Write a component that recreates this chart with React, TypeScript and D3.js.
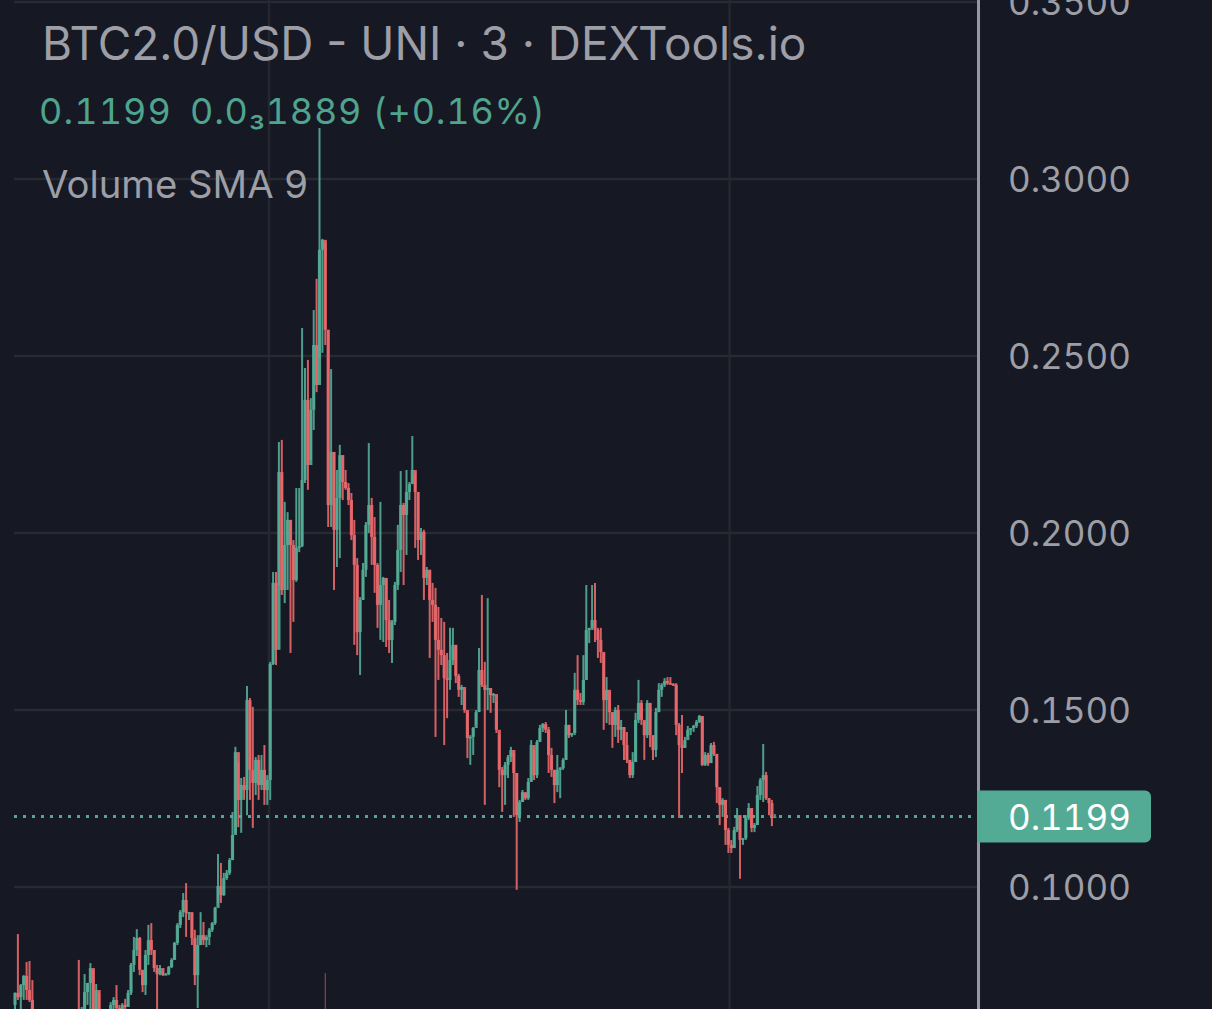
import * as d3 from "d3";

// prices, one entry per 3 minute candle
const highs = [
  .0702, .0867, .0726, .0751, .0788, .0791, .0737, .0618, .0625, .0614,
  .0605, .0618, .0624, .0612, .0603, .0616, .0622, .0630, .0615, .0608,
  .0620, .0625, .0794, .0661, .0754, .0729, .0785, .0766, .0726, .0701,
  .0647, .0630, .0647, .0675, .0689, .0723, .0667, .0672, .0684, .0709,
  .0785, .0859, .0881, .0859, .0766, .0822, .0893, .0898, .0822, .0780,
  .0780, .0760, .0757, .0777, .0799, .0845, .0898, .0935, .0983, .1011,
  .0929, .0927, .0879, .0864, .0929, .0901, .0864, .0884, .0901, .0944,
  .1093, .1068, .1040, .1048, .1082, .1212, .1396, .1350, .1308, .1311,
  .1568, .1534, .1509, .1367, .1373, .1373, .1401, .1316, .1636, .1890,
  .1890, .2257, .2263, .2088, .2059, .2037, .1980, .2127, .2127, .2579,
  .2466, .2489, .2381, .2630, .2718, .3144, .2831, .2819, .2574, .2463,
  .2229, .2178, .2249, .2220, .2178, .2141, .2113, .2037, .1929, .1819,
  .1915, .2031, .2254, .2099, .2045, .1915, .2088, .1876, .1873, .1811,
  .1754, .1862, .2023, .2175, .2085, .2178, .2144, .2274, .2170, .2116,
  .2014, .2009, .1904, .1896, .1859, .1845, .1791, .1760, .1749, .1661,
  .1732, .1732, .1684, .1602, .1571, .1557, .1492, .1429, .1452, .1500,
  .1675, .1825, .1636, .1816, .1562, .1548, .1523, .1429, .1339, .1353,
  .1373, .1396, .1379, .1322, .1246, .1274, .1266, .1308, .1415, .1387,
  .1415, .1458, .1463, .1466, .1452, .1393, .1331, .1373, .1339, .1364,
  .1500, .1458, .1435, .1605, .1655, .1548, .1655, .1853, .1732, .1853,
  .1859, .1732, .1732, .1661, .1593, .1551, .1494, .1508, .1514, .1472,
  .1452, .1438, .1359, .1381, .1492, .1585, .1528, .1466, .1528, .1520,
  .1429, .1506, .1576, .1576, .1590, .1593, .1593, .1576, .1576, .1463,
  .1486, .1424, .1455, .1449, .1458, .1472, .1486, .1483, .1381, .1379,
  .1407, .1410, .1376, .1282, .1251, .1246, .1167, .1133, .1170, .1223,
  .1203, .1138, .1203, .1237, .1223, .1181, .1285, .1308, .1404, .1325,
  .1251, .1246, .1206,
];

const lows = [
  .0647, .0681, .0647, .0681, .0681, .0675, .0590, .0585, .0596, .0585,
  .0575, .0585, .0595, .0582, .0572, .0585, .0595, .0600, .0585, .0578,
  .0588, .0592, .0560, .0560, .0624, .0667, .0638, .0624, .0596, .0624,
  .0568, .0554, .0568, .0610, .0638, .0647, .0596, .0624, .0647, .0664,
  .0695, .0760, .0805, .0751, .0703, .0695, .0780, .0808, .0760, .0647,
  .0751, .0749, .0751, .0751, .0771, .0794, .0836, .0884, .0915, .0859,
  .0907, .0836, .0723, .0658, .0836, .0836, .0830, .0836, .0873, .0893,
  .0955, .0955, .0975, .1020, .1034, .1076, .1153, .1169, .1153, .1246,
  .1203, .1246, .1167, .1260, .1246, .1274, .1232, .1232, .1246, .1627,
  .1627, .1853, .1825, .1802, .1839, .1661, .1749, .1862, .1946, .1960,
  .2141, .2122, .2206, .2291, .2398, .2494, .2509, .2531, .2017, .2017,
  .1839, .1904, .1929, .2093, .2122, .2079, .1980, .1684, .1655, .1599,
  .1811, .1876, .2000, .1910, .1831, .1732, .1698, .1692, .1678, .1661,
  .1633, .1740, .1839, .1890, .1853, .1938, .2093, .2141, .1958, .1924,
  .1938, .1811, .1853, .1647, .1749, .1424, .1585, .1627, .1401, .1477,
  .1557, .1627, .1576, .1537, .1514, .1492, .1364, .1345, .1373, .1458,
  .1494, .1565, .1232, .1500, .1492, .1520, .1435, .1282, .1212, .1232,
  .1308, .1353, .1198, .0992, .1184, .1240, .1246, .1246, .1297, .1302,
  .1308, .1410, .1438, .1435, .1322, .1311, .1237, .1268, .1251, .1331,
  .1359, .1421, .1424, .1429, .1514, .1514, .1514, .1585, .1689, .1726,
  .1692, .1647, .1633, .1444, .1463, .1458, .1393, .1424, .1407, .1415,
  .1359, .1350, .1308, .1308, .1353, .1463, .1458, .1359, .1421, .1395,
  .1359, .1367, .1494, .1537, .1565, .1571, .1571, .1568, .1429, .1195,
  .1322, .1393, .1427, .1429, .1438, .1449, .1463, .1342, .1342, .1342,
  .1350, .1370, .1237, .1175, .1198, .1119, .1096, .1096, .1110, .1155,
  .1023, .1119, .1133, .1189, .1155, .1155, .1175, .1246, .1240, .1246,
  .1203, .1172, .1198,
];

const closes = [
  .0701, .0689, .0723, .0749, .0709, .0681, .0596, .0604, .0612, .0598,
  .0590, .0603, .0611, .0597, .0588, .0601, .0609, .0616, .0600, .0594,
  .0605, .0610, .0568, .0638, .0703, .0729, .0771, .0638, .0709, .0653,
  .0596, .0610, .0624, .0667, .0681, .0658, .0638, .0667, .0661, .0701,
  .0780, .0822, .0856, .0766, .0723, .0808, .0850, .0822, .0771, .0754,
  .0771, .0751, .0754, .0774, .0794, .0842, .0893, .0929, .0963, .0927,
  .0929, .0856, .0751, .0836, .0864, .0850, .0859, .0879, .0898, .0941,
  .1003, .0977, .1025, .1040, .1076, .1147, .1381, .1246, .1288, .1274,
  .1528, .1331, .1294, .1359, .1288, .1331, .1274, .1302, .1630, .1859,
  .1670, .2172, .1839, .1966, .2037, .1966, .1867, .1958, .1963, .2150,
  .2376, .2192, .2348, .2531, .2418, .2800, .2828, .2574, .2079, .2229,
  .2009, .2099, .2220, .2144, .2127, .2093, .1994, .1910, .1720, .1811,
  .1896, .2023, .2079, .1989, .1910, .1797, .1853, .1873, .1754, .1698,
  .1749, .1853, .1952, .2079, .2051, .2116, .2138, .2178, .2116, .1980,
  .2003, .1873, .1896, .1811, .1797, .1698, .1670, .1655, .1590, .1585,
  .1641, .1684, .1596, .1557, .1565, .1500, .1421, .1424, .1449, .1494,
  .1613, .1571, .1557, .1562, .1542, .1545, .1444, .1331, .1316, .1345,
  .1367, .1387, .1322, .1203, .1240, .1268, .1251, .1297, .1401, .1316,
  .1410, .1449, .1460, .1444, .1373, .1331, .1288, .1331, .1336, .1359,
  .1458, .1429, .1435, .1557, .1528, .1523, .1585, .1726, .1732, .1754,
  .1726, .1698, .1664, .1528, .1557, .1494, .1458, .1500, .1444, .1452,
  .1401, .1359, .1316, .1353, .1472, .1520, .1472, .1429, .1520, .1429,
  .1387, .1494, .1557, .1571, .1582, .1576, .1573, .1571, .1458, .1401,
  .1393, .1415, .1444, .1449, .1455, .1466, .1483, .1345, .1373, .1350,
  .1401, .1376, .1282, .1232, .1246, .1161, .1119, .1110, .1161, .1203,
  .1133, .1138, .1195, .1223, .1167, .1175, .1260, .1302, .1316, .1251,
  .1237, .1195, .1199,
];

// a candle opens where the one before it closed
const firstOpen = 0.0667;
const opens = closes.map((_, i) => (i === 0 ? firstOpen : closes[i - 1]));

const priceTicks = [0.1, 0.15, 0.2, 0.25, 0.3, 0.35];
const timeGridCandles = [87.6, 246.4];
const lastPrice = 0.1199;

// the only volume bar tall enough to show at the bottom of the crop
const volumeCandles = [107];
const volumeValues = [1];

const UP = "#54ac96";
const DOWN = "#ea686c";
const BG = "#161924";
const GRID = "#272a33";
const TEXT = "#9d9ea6";
const FONT = "Inter, Roboto, sans-serif";
const TABULAR = { fontFeatureSettings: '"tnum"', fontVariantNumeric: "tabular-nums" };

export default function App() {
  const width = 1212;
  const height = 1009;

  const x = d3.scaleLinear().domain([0, closes.length - 1]).range([15, 774.8]);
  const y = d3.scaleLinear().domain([0.1, 0.35]).range([887, 2]);
  const volumeY = d3.scaleLinear().domain([0, 1]).range([1017, 973]);

  return (
    <svg
      width={width}
      height={height}
      viewBox={`0 0 ${width} ${height}`}
      style={{ position: "absolute", left: 0, top: 0, display: "block", background: BG }}
    >
      <rect width={width} height={height} fill={BG} />

      {/* Grid */}
      {priceTicks.map((t) => (
        <line key={t} x1={14} x2={977} y1={y(t)} y2={y(t)} stroke={GRID} strokeWidth={2.5} />
      ))}
      {timeGridCandles.map((c) => (
        <line key={c} x1={x(c)} x2={x(c)} y1={0} y2={height} stroke={GRID} strokeOpacity={0.85} strokeWidth={2.5} />
      ))}

      {/* Volume */}
      {volumeCandles.map((c, i) => (
        <line
          key={c}
          x1={x(c)}
          x2={x(c)}
          y1={volumeY(volumeValues[i])}
          y2={height}
          stroke={DOWN}
          strokeOpacity={0.55}
          strokeWidth={1.2}
        />
      ))}

      {/* Last price line */}
      <line
        x1={14}
        x2={976}
        y1={y(lastPrice)}
        y2={y(lastPrice)}
        stroke="#55a795"
        strokeWidth={3}
        strokeDasharray="3 6"
      />

      {/* Candles */}
      {closes.map((c, i) => {
        const o = opens[i];
        const up = c >= o;
        const color = up ? UP : DOWN;
        const top = y(Math.max(o, c));
        const bottom = y(Math.min(o, c));
        return (
          <g key={i} fillOpacity={0.9} strokeOpacity={0.9}>
            <line x1={x(i)} x2={x(i)} y1={y(highs[i])} y2={y(lows[i])} stroke={color} strokeWidth={2} />
            <rect x={x(i) - 1.6} y={top} width={3.2} height={Math.max(bottom - top, 1.5)} fill={color} />
          </g>
        );
      })}

      {/* Price axis */}
      <line x1={978.5} x2={978.5} y1={0} y2={height} stroke="#96979f" strokeWidth={3} />
      {priceTicks.map((t) => (
        <text
          key={t}
          x={1008}
          y={y(t) + 13}
          fontFamily={FONT}
          fontSize={35}
          fill={TEXT}
          style={TABULAR}
        >
          {t.toFixed(4)}
        </text>
      ))}

      {/* Last price tag */}
      <path
        d={`M977,${y(lastPrice) - 26} H1145 a6,6 0 0 1 6,6 V${y(lastPrice) + 20} a6,6 0 0 1 -6,6 H977 Z`}
        fill="#53ab95"
      />
      <text
        x={1008}
        y={y(lastPrice) + 13}
        fontFamily={FONT}
        fontSize={35}
        fill="#ffffff"
        style={TABULAR}
      >
        {lastPrice.toFixed(4)}
      </text>

      {/* Legend */}
      <text x={42} y={60} fontFamily={FONT} fontSize={45.9} fill={TEXT}>
        BTC2.0/USD - UNI · 3 · DEXTools.io
      </text>
      <text x={39} y={124} fontFamily={FONT} fontSize={36} letterSpacing={1.1} fill="#4fa48e" style={TABULAR}>
        0.1199
      </text>
      <text x={190} y={124} fontFamily={FONT} fontSize={36} letterSpacing={0.8} fill="#4fa48e" style={TABULAR}>
        0.0₃1889 (+0.16%)
      </text>
      <text x={42} y={198} fontFamily={FONT} fontSize={38.3} fill={TEXT}>
        Volume SMA 9
      </text>
    </svg>
  );
}
